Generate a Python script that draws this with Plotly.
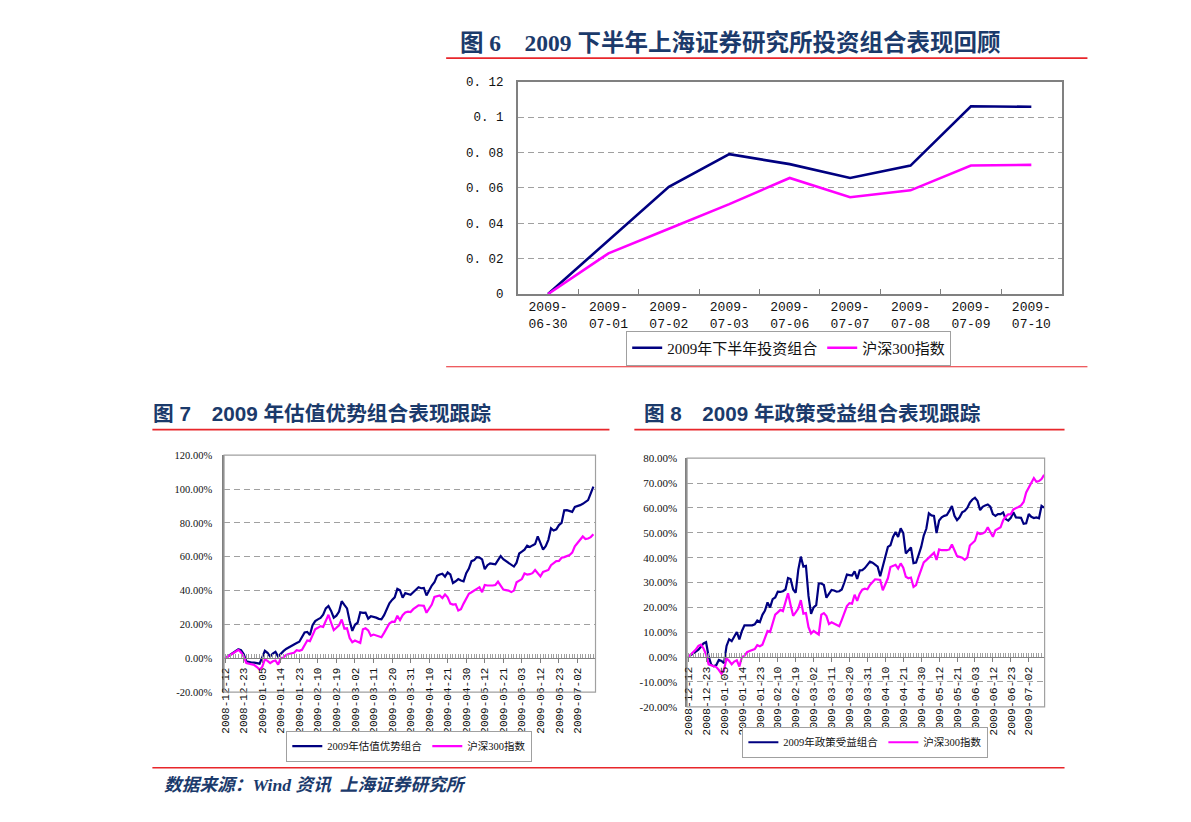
import pandas as pd
import plotly.graph_objects as go

W, H = 1191, 822

# ---------------- Figure 6 data ----------------
f6_dates = ["2009-06-30", "2009-07-01", "2009-07-02", "2009-07-03", "2009-07-06",
            "2009-07-07", "2009-07-08", "2009-07-09", "2009-07-10"]
f6_portfolio = [0.0, 0.0304, 0.0606, 0.0790, 0.0734, 0.0656, 0.0726, 0.1061, 0.1058]
f6_csi300 = [0.0, 0.0230, 0.0369, 0.0508, 0.0656, 0.0547, 0.0586, 0.0726, 0.0730]
f6_yticks = [0, 0.02, 0.04, 0.06, 0.08, 0.10, 0.12]
f6_yticktext = ["0", "0. 02", "0. 04", "0. 06", "0. 08", "0. 1", "0. 12"]

# ---------------- Figures 7 / 8 data (percent) ----------------
holidays = ["2009-01-01", "2009-01-02", "2009-01-26", "2009-01-27", "2009-01-28",
            "2009-01-29", "2009-01-30", "2009-04-06", "2009-05-01", "2009-05-28", "2009-05-29"]
trade_days = [d.strftime("%Y-%m-%d") for d in pd.bdate_range("2008-12-12", "2009-07-10")
              if d.strftime("%Y-%m-%d") not in holidays]

tick_labels = ["2008-12-12", "2008-12-23", "2009-01-05", "2009-01-14", "2009-01-23",
               "2009-02-10", "2009-02-19", "2009-03-02", "2009-03-11", "2009-03-20",
               "2009-03-31", "2009-04-10", "2009-04-21", "2009-04-30", "2009-05-12",
               "2009-05-21", "2009-06-03", "2009-06-12", "2009-06-23", "2009-07-02"]

value_portfolio = [
    0, 1.0, 2.2, 3.0, 4.2, 5.3, 4.8,
    2.5, -1.8, -2.3, -2.5, -2.6, -2.9, -3.2,
    0.5, 4.4, 3.2, 1.0, 2.8, 3.8, 1.0,
    2.8, 4.2, 5.5, 6.5, 7.0, 8.0, 9.0,
    9.8, 12.5, 15.2, 15.6, 13.7, 19.5, 22.0,
    23.0, 23.8, 25.7, 29.5, 30.9, 28.0, 24.0,
    25.2, 27.6, 33.7, 31.5, 29.5, 22.0, 16.2,
    19.8, 21.0, 27.2, 26.8, 27.0, 23.4, 24.8,
    24.5, 24.0, 23.3, 23.0, 25.5, 29.0, 32.5,
    34.5, 36.0, 41.0, 40.2, 35.8, 38.5, 38.0,
    37.5, 39.0, 40.5, 42.0, 41.4, 41.6, 37.1,
    40.5, 43.0, 44.9, 48.7, 49.5, 50.0, 48.2,
    50.7, 49.5, 44.5, 45.5, 46.8, 46.0, 45.5,
    50.3, 53.0, 57.4, 58.0, 59.8, 59.5, 58.4,
    52.6, 55.0, 56.1, 55.8, 55.5, 58.0, 60.4,
    58.5, 57.4, 56.5, 55.0, 54.2, 56.5, 61.9,
    63.0, 64.2, 66.5, 65.8, 66.7, 67.5, 72.0,
    68.1, 64.2, 66.2, 70.0, 76.8, 75.5, 76.2,
    78.7, 80.0, 87.4, 87.5, 87.0, 86.5, 89.4,
    89.8, 90.5, 91.3, 92.5, 93.5, 97.5, 101.4,
]

csi300 = [
    0, 1.0, 2.0, 3.0, 4.5, 5.0, 3.5,
    1.0, -2.9, -3.3, -3.5, -4.0, -5.2, -6.7,
    -5.1, -0.6, -1.5, -2.9, -1.8, -1.3, -3.8,
    0.0, 0.5, 2.0, 2.5, 2.8, 3.2, 4.8,
    4.4, 5.0, 8.0, 10.5, 10.1, 14.0, 17.1,
    18.0, 19.0, 18.5, 22.0, 25.7, 21.0, 16.6,
    18.0, 19.5, 22.9, 17.5, 17.7, 12.0, 9.5,
    10.5, 9.8, 9.1, 17.1, 17.7, 16.5, 13.3,
    14.0, 13.5, 12.8, 12.4, 15.0, 17.5, 20.5,
    21.7, 21.5, 25.1, 22.6, 25.5, 27.1, 27.5,
    27.3, 29.0, 30.4, 31.3, 31.2, 31.0, 26.9,
    29.0, 31.7, 36.2, 36.5, 37.1, 35.6, 37.7,
    36.0, 32.3, 31.7, 32.0, 28.2, 29.0, 32.3,
    35.0, 38.1, 39.0, 40.0, 41.0, 42.0, 39.1,
    43.3, 43.0, 42.9, 43.0, 43.3, 45.3, 43.0,
    40.6, 40.3, 40.0, 39.1, 40.0, 44.9, 46.0,
    46.8, 50.1, 49.5, 49.7, 50.3, 52.2, 50.0,
    48.4, 51.0, 51.5, 52.2, 55.0, 56.5, 57.4,
    57.5, 59.4, 59.8, 60.4, 61.0, 62.4, 66.2,
    68.1, 70.0, 72.0, 70.5, 70.8, 71.6, 73.3,
]

policy_portfolio = [
    0, 0.8, 1.6, 2.2, 3.0, 4.2, 5.5,
    6.0, 0.3, -3.0, -3.7, -3.2, -1.1, -1.5,
    -2.4, 4.5, 7.2, 6.4, 8.0, 10.1, 7.1,
    10.5, 12.8, 12.8, 13.0, 12.8, 13.2, 14.7,
    14.1, 17.0, 18.7, 22.0, 20.0, 23.3, 24.0,
    26.3, 26.2, 26.5, 27.2, 31.8, 31.4, 27.2,
    25.9, 35.1, 40.4, 36.4, 36.7, 24.6, 17.4,
    20.0, 20.9, 29.6, 29.6, 29.0, 23.9, 25.5,
    27.0, 26.8, 26.3, 26.5, 27.2, 30.0, 33.2,
    33.0, 32.8, 34.5, 31.4, 34.9, 35.0, 35.8,
    37.0, 38.4, 38.0, 37.0, 36.4, 32.5, 36.4,
    41.0, 44.3, 45.0, 48.3, 50.3, 48.3, 51.8,
    49.9, 41.7, 43.0, 44.1, 37.8, 38.0, 41.1,
    44.3, 48.9, 51.6, 57.8, 57.0, 56.8, 49.9,
    54.9, 56.2, 56.8, 57.1, 58.8, 60.8, 56.8,
    55.1, 56.2, 58.2, 58.8, 60.0, 62.1, 63.4,
    64.1, 62.8, 59.1, 60.4, 61.0, 61.4, 60.5,
    57.5, 56.8, 57.5, 57.5, 58.2, 55.5, 54.9,
    56.0, 58.2, 56.2, 56.2, 56.0, 53.6, 53.8,
    57.5, 56.4, 55.9, 56.2, 55.8, 60.8, 60.1,
]

f7_yticks = [-20, 0, 20, 40, 60, 80, 100, 120]
f8_yticks = [-20, -10, 0, 10, 20, 30, 40, 50, 60, 70, 80]

# ---------------- helpers (window pixel -> paper fraction) ----------------
def px(x):
    return x / W

def py(y):
    return 1 - y / H

NAVY = "#000080"
MAG = "#FF00FF"
GRID = "#A0A0A0"
TITLE_C = "#1B3A6B"
RED = "#E8262B"
SERIF = "Liberation Serif, DejaVu Serif, serif"
MONO = "Liberation Mono, DejaVu Sans Mono, monospace"
CJK = "Liberation Serif, Noto Sans CJK SC, serif"

idx = list(range(len(trade_days)))
tickpos = [trade_days.index(t) for t in tick_labels]

fig = go.Figure()

fig.add_trace(go.Scatter(x=f6_dates, y=f6_portfolio, mode="lines", name="2009年下半年投资组合",
                         line=dict(color=NAVY, width=2.6), xaxis="x", yaxis="y", legend="legend"))
fig.add_trace(go.Scatter(x=f6_dates, y=f6_csi300, mode="lines", name="沪深300指数",
                         line=dict(color=MAG, width=2.6), xaxis="x", yaxis="y", legend="legend"))

fig.add_trace(go.Scatter(x=idx, y=value_portfolio, mode="lines", name="2009年估值优势组合",
                         line=dict(color=NAVY, width=2.2), xaxis="x2", yaxis="y2", legend="legend2"))
fig.add_trace(go.Scatter(x=idx, y=csi300, mode="lines", name="沪深300指数",
                         line=dict(color=MAG, width=2.2), xaxis="x2", yaxis="y2", legend="legend2"))

fig.add_trace(go.Scatter(x=idx, y=policy_portfolio, mode="lines", name="2009年政策受益组合",
                         line=dict(color=NAVY, width=2.2), xaxis="x3", yaxis="y3", legend="legend3"))
fig.add_trace(go.Scatter(x=idx, y=csi300, mode="lines", name="沪深300指数",
                         line=dict(color=MAG, width=2.2), xaxis="x3", yaxis="y3", legend="legend3"))

d6x = [px(515), px(1061)]
d6y = [py(293), py(77)]
d7x = [px(220), px(593)]
d7y = [py(698), py(457)]
d8x = [px(685), px(1044)]
d8y = [py(713), py(460)]

pct_text = lambda v: f"{v:.2f}%"

layout = dict(
    width=W, height=H, margin=dict(l=0, r=0, t=0, b=0),
    paper_bgcolor="white", plot_bgcolor="white",
    font=dict(family=SERIF, color="#000000"),
    xaxis=dict(domain=d6x, anchor="y", type="category",
               tickvals=f6_dates,
               ticktext=[d[:5] + "<br>" + d[5:] for d in f6_dates],
               tickson="boundaries", ticks="inside", ticklen=5, tickcolor="#808080",
               showline=True, linecolor="#808080", linewidth=1.5, mirror=True,
               showgrid=False, tickfont=dict(family=MONO, size=13, color="#111"),
               range=[-0.5, 8.5]),
    yaxis=dict(domain=d6y, anchor="x", range=[0, 0.12], tickvals=f6_yticks,
               ticktext=f6_yticktext, showgrid=True, gridcolor=GRID, griddash="6px,4px",
               gridwidth=1, zeroline=False, showline=True, linecolor="#808080",
               linewidth=1.5, mirror=True, ticks="", ticklabelstandoff=10,
               tickfont=dict(family=MONO, size=12.5, color="#111")),
    xaxis2=dict(domain=d7x, anchor="free", position=d7y[0] + (d7y[1] - d7y[0]) * (20 / 140),
                range=[-0.4, 139.8], tickmode="array", tickvals=tickpos, ticktext=tick_labels,
                tickangle=-90, ticks="outside", ticklen=4, tickcolor="#808080",
                minor=dict(tickmode="linear", tick0=0, dtick=1, ticks="inside", ticklen=4,
                           tickcolor="#A0A0A0", showgrid=False),
                showline=True, linecolor="#808080", linewidth=1,
                showgrid=False, zeroline=False,
                tickfont=dict(family=MONO, size=11, color="#111")),
    yaxis2=dict(domain=d7y, anchor="x2", range=[-20, 120], tickvals=f7_yticks,
                ticktext=[pct_text(v) for v in f7_yticks], showgrid=True, gridcolor=GRID,
                griddash="6px,4px", zeroline=False, showline=True, linecolor="#808080",
                linewidth=1.5, ticks="", ticklabelstandoff=8,
                tickfont=dict(family=SERIF, size=10.5, color="#111")),
    xaxis3=dict(domain=d8x, anchor="free", position=d8y[0] + (d8y[1] - d8y[0]) * (20 / 100),
                range=[-0.4, 139.2], tickmode="array", tickvals=tickpos, ticktext=tick_labels,
                tickangle=-90, ticks="outside", ticklen=4, tickcolor="#808080",
                minor=dict(tickmode="linear", tick0=0, dtick=1, ticks="inside", ticklen=4,
                           tickcolor="#A0A0A0", showgrid=False),
                showline=True, linecolor="#808080", linewidth=1,
                showgrid=False, zeroline=False,
                tickfont=dict(family=MONO, size=11.5, color="#111")),
    yaxis3=dict(domain=d8y, anchor="x3", range=[-20, 80], tickvals=f8_yticks,
                ticktext=[pct_text(v) for v in f8_yticks], showgrid=True, gridcolor=GRID,
                griddash="6px,4px", zeroline=False, showline=True, linecolor="#808080",
                linewidth=1.5, ticks="", ticklabelstandoff=6,
                tickfont=dict(family=SERIF, size=11, color="#111")),
    legend=dict(x=px(787), y=py(348), xanchor="center", yanchor="middle", orientation="h",
                bordercolor="#A0A0A0", borderwidth=1, bgcolor="white",
                font=dict(family=CJK, size=15, color="#111"), itemwidth=30),
    legend2=dict(x=px(406), y=py(753), xanchor="center", yanchor="middle", orientation="h",
                 bordercolor="#A0A0A0", borderwidth=1, bgcolor="white",
                 font=dict(family=CJK, size=10.5, color="#111"), itemwidth=30),
    legend3=dict(x=px(864), y=py(749), xanchor="center", yanchor="middle", orientation="h",
                 bordercolor="#A0A0A0", borderwidth=1, bgcolor="white",
                 font=dict(family=CJK, size=10.5, color="#111"), itemwidth=30),
)
fig.update_layout(**layout)

shapes = []
for xr, yr in (("x2 domain", "y2 domain"), ("x3 domain", "y3 domain")):
    shapes.append(dict(type="rect", xref=xr, yref=yr, x0=0, x1=1, y0=0, y1=1,
                       line=dict(color="#A0A0A0", width=1.2), layer="above"))
for (x0, x1, y, w) in ((443, 1087, 53, 1.6), (443, 1087, 367, 1.2),
                       (148, 607, 431, 1.6), (632, 1064, 431, 1.6),
                       (148, 1064, 775, 1.6)):
    shapes.append(dict(type="line", xref="paper", yref="paper", x0=px(x0), x1=px(x1),
                       y0=py(y), y1=py(y), line=dict(color=RED, width=w)))
fig.update_layout(shapes=shapes)

annotations = [
    dict(text="<b>图 6　2009 下半年上海证券研究所投资组合表现回顾</b>", x=px(455), y=py(38),
         xref="paper", yref="paper", xanchor="left", yanchor="middle", showarrow=False,
         font=dict(family="Liberation Serif, Noto Sans CJK SC", size=23.5, color=TITLE_C)),
    dict(text="<b>图 7　2009 年估值优势组合表现跟踪</b>", x=px(147), y=py(415),
         xref="paper", yref="paper", xanchor="left", yanchor="middle", showarrow=False,
         font=dict(family="Liberation Sans, Noto Sans CJK SC", size=20.7, color=TITLE_C)),
    dict(text="<b>图 8　2009 年政策受益组合表现跟踪</b>", x=px(640), y=py(415),
         xref="paper", yref="paper", xanchor="left", yanchor="middle", showarrow=False,
         font=dict(family="Liberation Sans, Noto Sans CJK SC", size=20.6, color=TITLE_C)),
    dict(text="<b><i>数据来源：Wind 资讯  上海证券研究所</i></b>", x=px(158), y=py(792),
         xref="paper", yref="paper", xanchor="left", yanchor="middle", showarrow=False,
         font=dict(family="Liberation Serif, Noto Sans CJK SC", size=17.7, color=TITLE_C)),
]
fig.update_layout(annotations=annotations)

fig.write_html("out.html")
